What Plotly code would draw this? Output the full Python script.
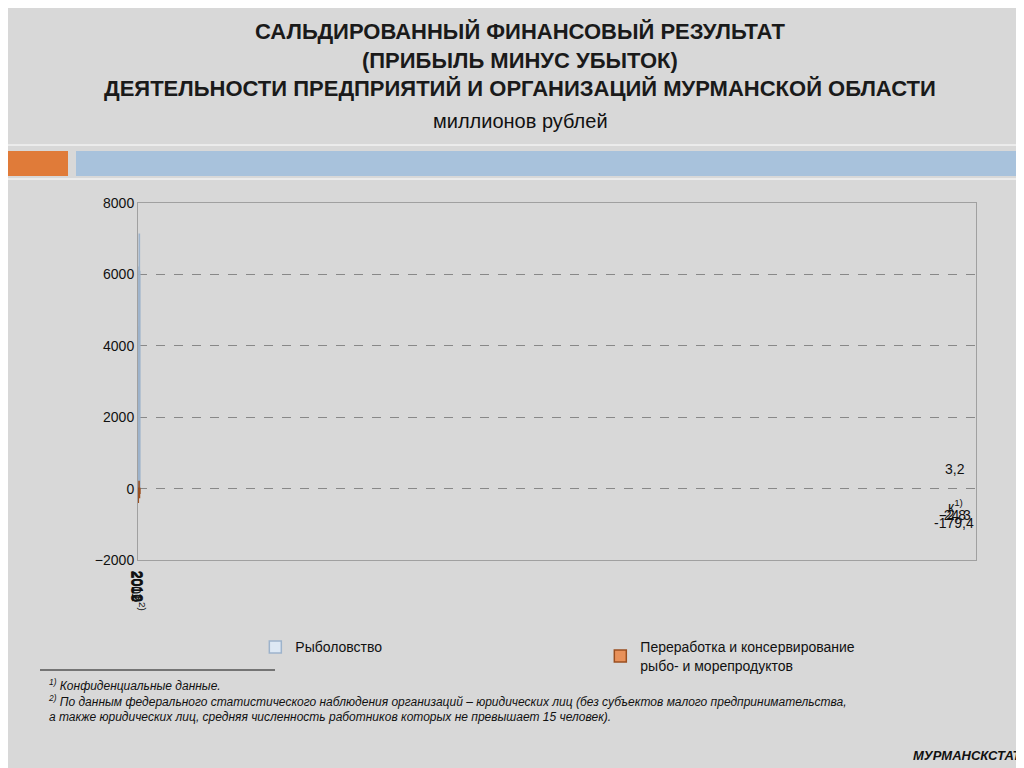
import plotly.graph_objects as go

years = ["2009", "2010", "2011", "2012", "2013"]
tick_labels = ["2009", "2010", "2011", "2012", "2013<sup>2)</sup>"]
fishing = [2972.2, 4529.1, 6203.5, 7125.9, 6078.6]
fishing_labels = ["2972.2", "4529.1", "6203,5", "7125.9", "6078.6"]
# drawn heights of the processing bars as they appear on the slide
processing = [-380, -170, 200, -250, -130]
processing_labels = ["-179,4", "-2,8", "3,2", "-24,3", "к<sup>1)</sup>"]
processing_label_y = [-950, -750, 550, -750, -500]

bg = "#d8d8d8"
cx = (512 - 130) / 838  # page centre in plot-paper coordinates

fig = go.Figure()
fig.add_trace(go.Bar(x=years, y=fishing, name="Рыболовство",
                     marker=dict(color="#dde8f4", line=dict(color="#9db3cb", width=1.5)),
                     text=fishing_labels, textposition="outside",
                     textfont=dict(size=14, color="#111"), cliponaxis=False))
fig.add_trace(go.Bar(x=years, y=processing,
                     name="Переработка и консервирование<br>рыбо- и морепродуктов",
                     marker=dict(color="#e8915a", line=dict(color="#9a4f20", width=1.5))))

for yr, txt, ly in zip(years, processing_labels, processing_label_y):
    fig.add_annotation(x=yr, y=ly, text=txt, showarrow=False, xshift=24,
                       font=dict(size=14, color="#111"))

fig.update_layout(
    width=1024, height=768, paper_bgcolor=bg, plot_bgcolor=bg,
    font=dict(family="Liberation Sans, Arial", color="#111"),
    margin=dict(l=130, r=56, t=195, b=216),
    barmode="group", bargap=0.45, bargroupgap=0.0,
    showlegend=True,
    legend=dict(orientation="h", x=0.14, y=-0.2, xanchor="left", yanchor="top",
                font=dict(size=14), bgcolor="rgba(0,0,0,0)",
                entrywidthmode="pixels", entrywidth=300),
)
fig.update_xaxes(type="category", tickvals=years, ticktext=tick_labels, tickfont=dict(size=14),
                 showline=True, linecolor="#a0a0a0", mirror=True, ticks="")
fig.update_yaxes(range=[-2000, 8000], dtick=2000, tickfont=dict(size=14),
                 showgrid=True, gridcolor="#888", griddash="dash", zeroline=False,
                 showline=True, linecolor="#a0a0a0", mirror=True)

# header
fig.add_annotation(xref="paper", yref="paper", x=cx, y=1.0, yshift=186, xanchor="center", yanchor="top",
                   showarrow=False, align="center",
                   text="<b>САЛЬДИРОВАННЫЙ ФИНАНСОВЫЙ РЕЗУЛЬТАТ<br>(ПРИБЫЛЬ МИНУС УБЫТОК)<br>"
                        "ДЕЯТЕЛЬНОСТИ ПРЕДПРИЯТИЙ И ОРГАНИЗАЦИЙ МУРМАНСКОЙ ОБЛАСТИ</b>",
                   font=dict(size=22, color="#1a1a1a"))
fig.add_annotation(xref="paper", yref="paper", x=cx, y=1.0, yshift=95, xanchor="center", yanchor="top",
                   showarrow=False, text="миллионов рублей", font=dict(size=20))
fig.add_shape(type="rect", xref="paper", yref="paper", x0=-130/838, x1=-70/838,
              y0=1 + 27/357, y1=1 + 52/357, fillcolor="#e07b39", line_width=0)
fig.add_shape(type="rect", xref="paper", yref="paper", x0=-62/838, x1=894/838,
              y0=1 + 27/357, y1=1 + 52/357, fillcolor="#a8c2dc", line_width=0)
fig.add_shape(type="line", xref="paper", yref="paper", x0=-130/838, x1=894/838,
              y0=1 + 58/357, y1=1 + 58/357, line=dict(color="white", width=1))
fig.add_shape(type="line", xref="paper", yref="paper", x0=-130/838, x1=894/838,
              y0=1 + 24/357, y1=1 + 24/357, line=dict(color="white", width=1))

# footnotes
fig.add_shape(type="line", xref="paper", yref="paper", x0=-98/838, x1=137/838,
              y0=-110/357, y1=-110/357, line=dict(color="#111", width=1))
fig.add_annotation(xref="paper", yref="paper", x=-92/838, y=-115/357, xanchor="left", yanchor="top",
                   showarrow=False, align="left", font=dict(size=12),
                   text="<i><sup>1)</sup> Конфиденциальные данные.<br><sup>2)</sup> По данным федерального "
                        "статистического наблюдения организаций – юридических лиц (без субъектов малого "
                        "предпринимательства,<br>а также юридических лиц, средняя численность работников "
                        "которых не превышает 15 человек).</i>")
fig.add_annotation(xref="paper", yref="paper", x=1 + 48/838, y=-186/357, xanchor="right", yanchor="top",
                   showarrow=False, text="<b><i>МУРМАНСКСТАТ</i></b>", font=dict(size=13))

fig.write_html("out.html")
